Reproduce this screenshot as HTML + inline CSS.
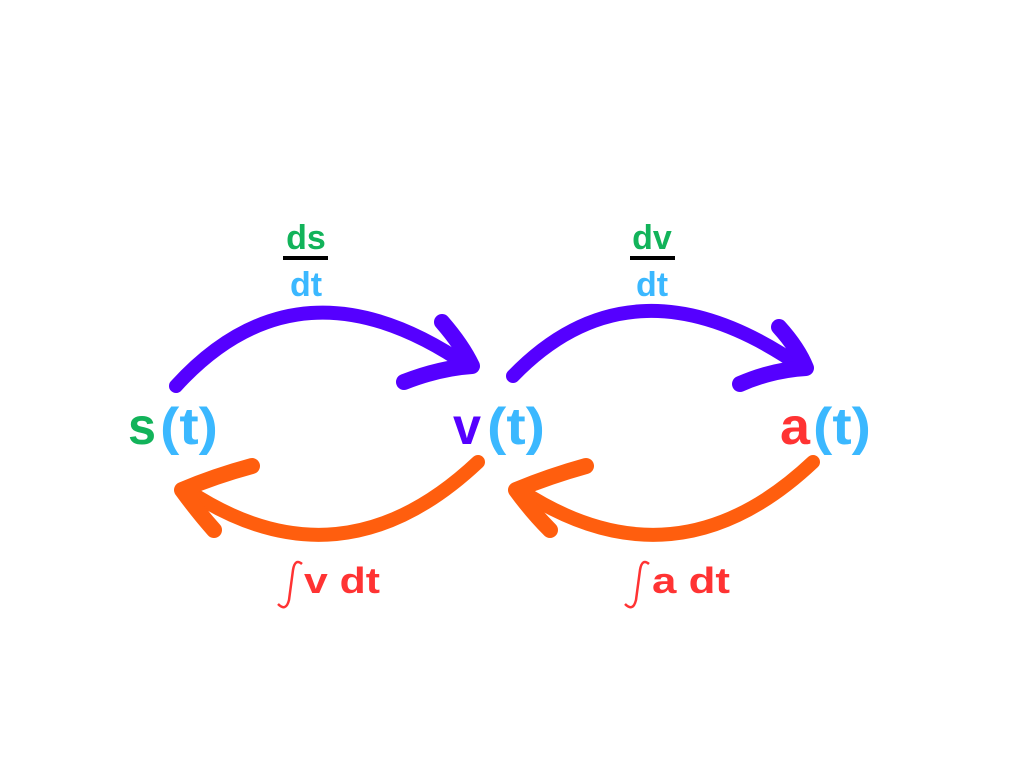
<!DOCTYPE html>
<html><head><style>
html,body{margin:0;padding:0;background:#fff;}
svg{display:block}
text{font-family:"Liberation Sans",sans-serif;font-weight:bold;}
</style></head><body>
<svg width="1024" height="768" viewBox="0 0 1024 768">
<g fill="none" stroke-linecap="round" stroke-linejoin="round">
 <path d="M176,386 Q300,250 468,366" stroke="#5500ff" stroke-width="14"/>
 <path d="M442,322 Q462,345 472,366 Q440,368 404,382" stroke="#5500ff" stroke-width="16"/>
 <path d="M513,376 Q635,250 803,368" stroke="#5500ff" stroke-width="14"/>
 <path d="M779,327 Q798,348 806,368 Q772,370 740,384" stroke="#5500ff" stroke-width="16"/>
 <path d="M478,462 Q340,592 187,490" stroke="#ff5e0e" stroke-width="14"/>
 <path d="M252,466 Q215,476 182,490 Q198,512 214,530" stroke="#ff5e0e" stroke-width="16"/>
 <path d="M813,462 Q675,592 520,490" stroke="#ff5e0e" stroke-width="14"/>
 <path d="M586,466 Q550,476 516,490 Q532,512 550,530" stroke="#ff5e0e" stroke-width="16"/>
</g>
<text x="128" y="444" font-size="52" fill="#12b35a" textLength="28" lengthAdjust="spacingAndGlyphs">s</text>
<text x="160" y="444" font-size="52" fill="#3bb8ff" textLength="58" lengthAdjust="spacingAndGlyphs">(t)</text>
<text x="453" y="444" font-size="52" fill="#5500ff" textLength="28" lengthAdjust="spacingAndGlyphs">v</text>
<text x="487" y="444" font-size="52" fill="#3bb8ff" textLength="58" lengthAdjust="spacingAndGlyphs">(t)</text>
<text x="780" y="444" font-size="52" fill="#ff3333" textLength="30" lengthAdjust="spacingAndGlyphs">a</text>
<text x="813" y="444" font-size="52" fill="#3bb8ff" textLength="58" lengthAdjust="spacingAndGlyphs">(t)</text>
<text x="306" y="249" font-size="34" fill="#12b35a" text-anchor="middle">ds</text>
<rect x="283" y="256" width="45" height="4" fill="#000"/>
<text x="306" y="296" font-size="34" fill="#3bb8ff" text-anchor="middle">dt</text>
<text x="652" y="249" font-size="34" fill="#12b35a" text-anchor="middle">dv</text>
<rect x="630" y="256" width="45" height="4" fill="#000"/>
<text x="652" y="296" font-size="34" fill="#3bb8ff" text-anchor="middle">dt</text>
<path d="M278,604 Q286,612 289,600 L293,570 Q295,558 302,564" fill="none" stroke="#ff3333" stroke-width="2.5"/>
<text x="304" y="593" font-size="36" fill="#ff3333" textLength="76" lengthAdjust="spacingAndGlyphs">v dt</text>
<path d="M625,604 Q633,612 636,600 L640,570 Q642,558 649,564" fill="none" stroke="#ff3333" stroke-width="2.5"/>
<text x="652" y="593" font-size="36" fill="#ff3333" textLength="78" lengthAdjust="spacingAndGlyphs">a dt</text>
</svg>
</body></html>
